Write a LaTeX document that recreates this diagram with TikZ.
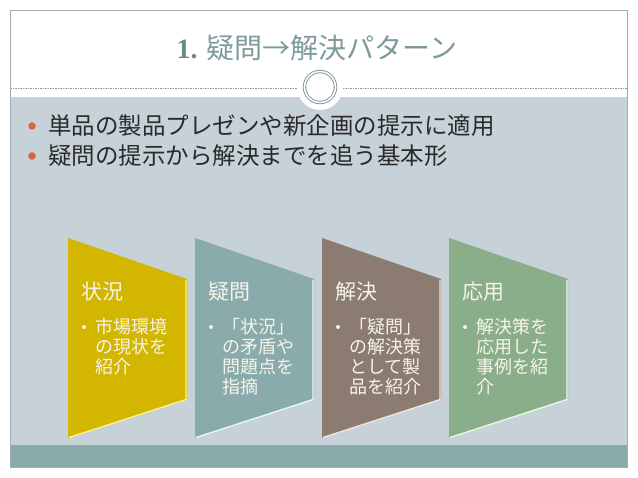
\documentclass[tikz,border=0pt]{standalone}
\usepackage{fontspec}
\setmainfont{Liberation Serif}
\newfontfamily\cjk{Noto Sans CJK JP}
\definecolor{graybg}{HTML}{C6D1D8}
\definecolor{bandc}{HTML}{88AAAA}
\definecolor{framec}{HTML}{9FB0B5}
\definecolor{dotc}{HTML}{8A9CA2}
\definecolor{ringc}{HTML}{7D9497}
\definecolor{titc}{HTML}{7E9A9A}
\definecolor{titn}{HTML}{6A8A8A}
\definecolor{bul}{HTML}{D5643F}
\definecolor{maintxt}{HTML}{2A2A2A}
\definecolor{shY}{HTML}{D2B600}
\definecolor{shT}{HTML}{8AABAB}
\definecolor{shB}{HTML}{8B7B70}
\definecolor{shG}{HTML}{8BAE8A}
\definecolor{hlY}{HTML}{FFF38A}
\definecolor{hlT}{HTML}{E4FBFB}
\definecolor{hlB}{HTML}{F4E6DE}
\definecolor{hlG}{HTML}{EAFBE2}
\definecolor{txtw}{HTML}{F6F4EA}
\begin{document}
\begin{tikzpicture}[x=1pt,y=-1pt,
  head/.style={anchor=west, inner sep=0pt, font=\cjk\fontsize{21}{21}\selectfont, text=txtw},
  body/.style={anchor=north west, align=left, inner sep=0pt, font=\cjk\fontsize{18}{20}\selectfont, text=txtw},
  sdot/.style={circle, fill=txtw, inner sep=0pt, minimum size=4pt},
  mdot/.style={circle, fill=bul, inner sep=0pt, minimum size=7.5pt},
  mtext/.style={anchor=west, inner sep=0pt, font=\cjk\fontsize{23.5}{24}\selectfont, text=maintxt},
  title/.style={inner sep=0pt, font=\fontsize{28}{28}\selectfont, text=titc}]
\useasboundingbox (0,0) rectangle (638,478);
\fill[white] (0,0) rectangle (638,478);
\fill[graybg] (10,97) rectangle (627,445);
\fill[bandc] (10,445) rectangle (627,467);
\draw[dotc, line width=0.7pt, dash pattern=on 1.5pt off 1pt] (10,88) -- (627,88);
\fill[white] (320,87) circle (23pt);
\draw[ringc, line width=0.9pt, double=white, double distance=1.6pt] (320,87) circle (15.5pt);
\draw[framec, line width=0.8pt] (10,10) rectangle (627,467);
% title
\node[title] (ttl) at (317,48) {{\bfseries\color{titn}1.} {\cjk 疑問→解決パターン}};
% main bullets
\node[mdot] (m1) at (32,126) {};
\node[mtext] (l1) at (48,126) {単品の製品プレゼンや新企画の提示に適用};
\node[mdot] (m2) at (32,156) {};
\node[mtext] (l2) at (48,156) {疑問の提示から解決までを追う基本形};
% chevrons
\foreach \L/\c/\e in {68/shY/hlY, 195/shT/hlT, 322/shB/hlB, 449/shG/hlG} {
  \fill[\c] (\L,238) -- (\L+119,279) -- (\L+119,399) -- (\L,438) -- cycle;
  \draw[\e, line width=1.3pt, line join=round] (\L+118,280) -- (\L+118,399.5) -- (\L+1,437.5);
}
\node[head] (h1) at (81,292) {状況};
\node[sdot] (d1) at (84,327) {};
\node[body] (t1) at (95,318.5) {市場環境\\の現状を\\紹介};
\node[head] (h2) at (208,292) {疑問};
\node[sdot] (d2) at (211,327) {};
\node[body] (t2) at (222,318.5) {「状況」\\の矛盾や\\問題点を\\指摘};
\node[head] (h3) at (335,292) {解決};
\node[sdot] (d3) at (338,327) {};
\node[body] (t3) at (349,318.5) {「疑問」\\の解決策\\として製\\品を紹介};
\node[head] (h4) at (462,292) {応用};
\node[sdot] (d4) at (465,327) {};
\node[body] (t4) at (476,318.5) {解決策を\\応用した\\事例を紹\\介};
\end{tikzpicture}
\end{document}
